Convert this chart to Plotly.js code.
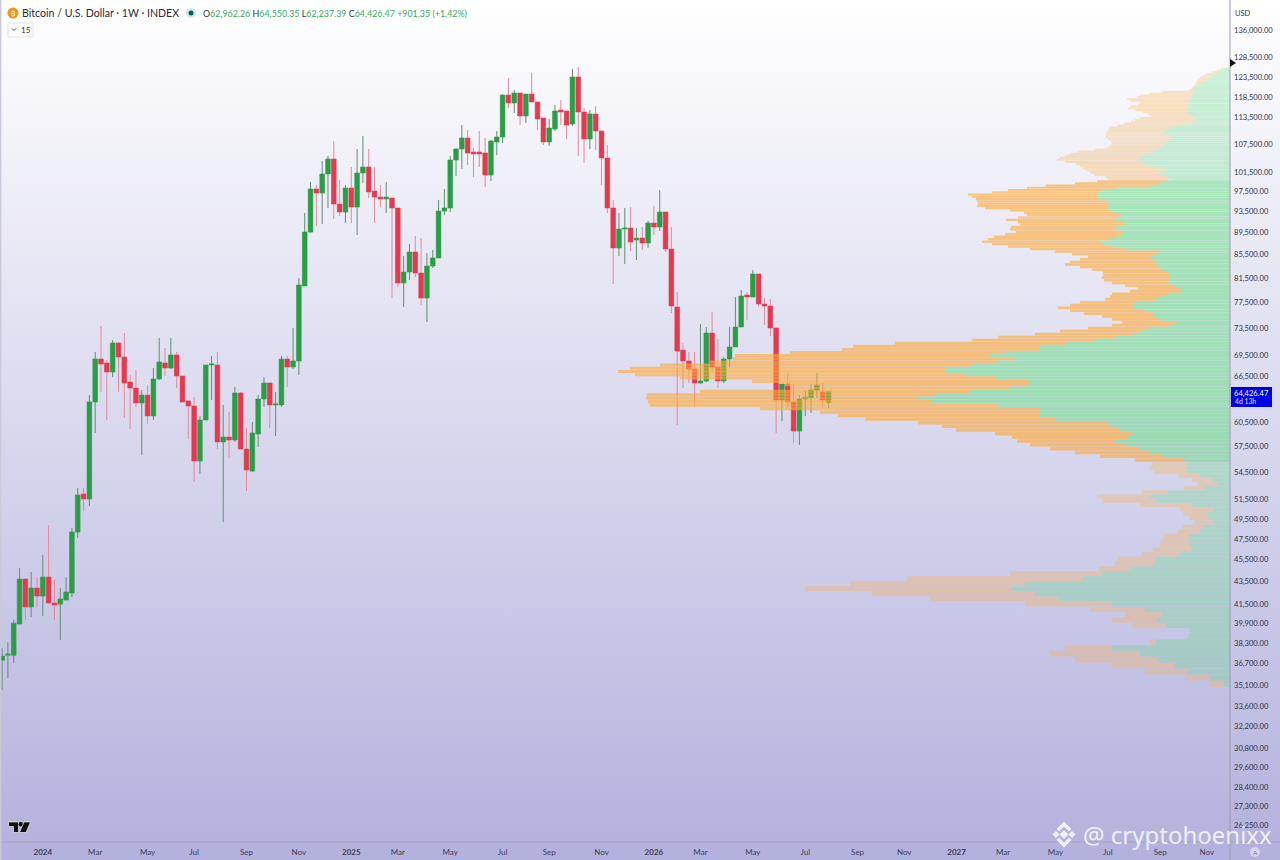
<!DOCTYPE html>
<html>
<head>
<meta charset="utf-8">
<script src="https://cdn.plot.ly/plotly-3.0.1.min.js"></script>
<style>
html,body{margin:0;padding:0;width:1280px;height:860px;overflow:hidden}
#chart{width:1280px;height:860px;background:linear-gradient(180deg,#ffffff 0%,#b3b1dd 100%)}
#chart .barlayer path{shape-rendering:geometricPrecision!important}
</style>
</head>
<body>
<div id="chart"></div>
<script>
var weekDates = [
'2023-11-13','2023-11-20','2023-11-27','2023-12-04','2023-12-11','2023-12-18','2023-12-25',
'2024-01-01','2024-01-08','2024-01-15','2024-01-22','2024-01-29','2024-02-05','2024-02-12','2024-02-19','2024-02-26',
'2024-03-04','2024-03-11','2024-03-18','2024-03-25','2024-04-01','2024-04-08','2024-04-15','2024-04-22','2024-04-29',
'2024-05-06','2024-05-13','2024-05-20','2024-05-27','2024-06-03','2024-06-10','2024-06-17','2024-06-24',
'2024-07-01','2024-07-08','2024-07-15','2024-07-22','2024-07-29','2024-08-05','2024-08-12','2024-08-19','2024-08-26',
'2024-09-02','2024-09-09','2024-09-16','2024-09-23','2024-09-30','2024-10-07','2024-10-14','2024-10-21','2024-10-28',
'2024-11-04','2024-11-11','2024-11-18','2024-11-25','2024-12-02','2024-12-09','2024-12-16','2024-12-23','2024-12-30',
'2025-01-06','2025-01-13','2025-01-20','2025-01-27','2025-02-03','2025-02-10','2025-02-17','2025-02-24',
'2025-03-03','2025-03-10','2025-03-17','2025-03-24','2025-03-31','2025-04-07','2025-04-14','2025-04-21','2025-04-28',
'2025-05-05','2025-05-12','2025-05-19','2025-05-26','2025-06-02','2025-06-09','2025-06-16','2025-06-23','2025-06-30',
'2025-07-07','2025-07-14','2025-07-21','2025-07-28','2025-08-04','2025-08-11','2025-08-18','2025-08-25',
'2025-09-01','2025-09-08','2025-09-15','2025-09-22','2025-09-29','2025-10-06','2025-10-13','2025-10-20','2025-10-27',
'2025-11-03','2025-11-10','2025-11-17','2025-11-24','2025-12-01','2025-12-08','2025-12-15','2025-12-22','2025-12-29',
'2026-01-05','2026-01-12','2026-01-19','2026-01-26','2026-02-02','2026-02-09','2026-02-16','2026-02-23',
'2026-03-02','2026-03-09','2026-03-16','2026-03-23','2026-03-30','2026-04-06','2026-04-13','2026-04-20','2026-04-27',
'2026-05-04','2026-05-11','2026-05-18','2026-05-25','2026-06-01','2026-06-08','2026-06-15','2026-06-22','2026-06-29',
'2026-07-06','2026-07-13','2026-07-20','2026-07-27','2026-08-03'];

var openPrices = [36960,37340,37340,39820,43710,41250,42900,
42200,43890,41590,41500,41850,42460,48170,52120,51580,63050,
68910,68350,67080,71230,69200,65710,64890,62920,63960,61250,
66120,68350,67640,69490,66530,63180,62530,55800,60740,68070,
68070,58040,58640,58280,64230,57200,54650,59010,63440,65570,
62660,62660,68910,67780,68630,80150,89610,97950,97150,101040,
104230,94960,93400,98160,94370,101250,102520,97550,96350,95960,
96150,94180,80640,82500,85980,82330,78180,83530,84930,93590,
94180,104010,106410,108860,105750,105750,105530,100830,107960,109080,
118980,117030,119480,113930,119220,117270,113450,107960,110900,115350,
115110,112050,123500,114870,108640,114400,110450,104450,94180,86700,
90180,90360,88140,88500,87600,91300,90550,93400,86520,76740,
70200,68630,67500,65570,65850,72720,67780,65850,68910,70640,
73630,78660,78340,82160,77210,76900,73480,63310,65440,63050,
59370,63440,63570,64630,64360,62962.26];

var highPrices = [37890,38360,40150,44720,43800,44340,43890,
45940,48880,43620,42900,43890,48580,52770,52770,63960,69920,
73780,68770,71670,71380,72720,66670,67360,64630,65300,67640,
71970,70500,71970,69920,66530,63310,63700,61250,68070,69340,
69920,62660,61750,65030,64360,59750,60490,63960,66390,65570,
64360,69340,69340,73480,81480,93210,99390,98770,103800,104880,
108180,99800,98770,102520,106410,109300,106410,102520,98770,99390,
96150,94180,85270,87420,88870,88500,85800,86340,95750,97950,
104880,106630,111810,110670,106630,110450,108860,108400,110450,119220,
123240,120220,119480,119220,124520,117270,113450,113220,116550,117760,
115110,125530,126090,115830,115350,116310,110450,107290,95750,93210,
94180,94370,90360,90550,91680,94570,97750,93400,90550,79150,
71230,69920,69920,74090,73630,75950,71820,69200,73630,78340,
79480,79150,82850,82160,78180,78020,73480,65440,66950,65440,
63960,64500,65440,66950,65570,64550.35];

var lowPrices = [34730,35610,36730,39820,40150,40400,41250,
40480,41590,40150,38520,41850,42110,47580,50310,50840,59130,
64360,60740,66390,64360,60990,59630,62400,56490,60240,60740,
65980,66530,67500,64890,62920,58400,53430,54320,60740,63310,
57200,49180,56140,58040,57200,52440,54540,57440,62400,59750,
58760,62400,65030,67500,66670,80150,89430,90740,91110,94180,
92060,92630,91300,91300,89060,99180,96150,91300,94370,93210,
78180,79980,76740,81140,81650,77050,74390,83190,84930,92820,
93400,100620,102100,102940,100420,102520,98360,99590,105090,107740,
115830,114630,111810,112290,117270,110670,107290,107070,110450,111810,
108640,111590,104880,103360,106410,106190,98770,93210,80470,85270,
83880,86160,84570,86340,86700,89060,89800,85980,75790,60120,
64890,65570,62400,65440,65710,67220,64890,65570,67780,70640,
73630,74700,78340,76740,73930,72270,59130,60620,62270,57920,
57680,61250,61620,63570,62270,62237.39];

var closePrices = [37270,37420,39900,43710,41250,42900,42200,
43890,41590,41420,41940,42550,48170,52010,51580,63050,68910,
68210,67080,71230,69200,65570,64890,62920,63960,61250,66120,
68490,67640,69490,66530,63050,62530,55800,60740,68070,68210,
58040,58640,58280,64230,57200,54770,59130,63440,65570,62660,
62790,68910,67780,68630,80310,89610,97950,97150,101040,104230,
94960,93400,98160,94370,101250,102520,97350,96350,95960,96350,
94180,80640,82500,85980,82330,78180,83530,84930,93590,94180,
104010,106410,108860,105530,105310,105310,100830,108180,109080,118980,
117030,119480,113930,119220,117270,113220,107960,111130,115110,114870,
111810,123500,114870,108640,114400,110450,104450,94180,86700,90180,
90360,87780,88500,87600,91300,90550,93400,86520,76900,70060,
68630,67500,65570,65850,72720,67780,65850,68910,70640,73630,
78500,78340,82160,77210,76900,73480,63310,65440,63050,59370,
63440,63700,64630,65300,63310,64426.47];

var rowPrices = [125650,125200,124750,124300,123850,123400,122950,122500,122050,121600,121150,120700,120250,119800,119350,118900,118450,118000,117550,117100,
116650,116200,115750,115300,114850,114400,113950,113500,113050,112600,112150,111700,111250,110800,110350,109900,109450,109000,108550,108100,
107650,107200,106750,106300,105850,105400,104950,104500,104050,103600,103150,102700,102250,101800,101350,100900,100450,100000,99550,99100,
98650,98200,97750,97300,96850,96400,95950,95500,95050,94600,94150,93700,93250,92800,92350,91900,91450,91000,90550,90100,
89650,89200,88750,88300,87850,87400,86950,86500,86050,85600,85150,84700,84250,83800,83350,82900,82450,82000,81550,81100,
80650,80200,79750,79300,78850,78400,77950,77500,77050,76600,76150,75700,75250,74800,74350,73900,73450,73000,72550,72100,
71650,71200,70750,70300,69850,69400,68950,68500,68050,67600,67150,66700,66250,65800,65350,64900,64450,64000,63550,63100,
62650,62200,61750,61300,60850,60400,59950,59500,59050,58600,58150,57700,57250,56800,56350,55900,55450,55000,54550,54100,
53650,53200,52750,52300,51850,51400,50950,50500,50050,49600,49150,48700,48250,47800,47350,46900,46450,46000,45550,45100,
44650,44200,43750,43300,42850,42400,41950,41500,41050,40600,40150,39700,39250,38800,38350,37900,37450,37000,36550,36100,
35650,35200];

var rowTotalVolume = [9,13,18,24,27,30,32,33,34,35,37,38,41,68,80,90,92,103,100,90,
92,100,102,95,88,82,80,90,95,99,106,112,120,122,123,124,124,125,122,119,
118,120,123,135,152,160,165,170,173,165,154,150,147,144,140,136,124,122,133,155,
184,203,222,238,262,258,254,253,252,253,245,220,206,203,212,224,212,210,219,220,
214,225,236,242,248,238,222,200,175,158,142,150,160,165,150,138,127,127,128,126,
118,105,92,100,118,120,125,150,160,172,160,146,128,118,108,118,142,170,195,232,
258,335,377,388,440,495,497,520,570,600,612,595,550,478,445,440,530,583,584,582,
580,470,410,392,365,312,288,274,235,218,213,200,180,155,130,95,78,80,76,52,
38,32,46,88,133,127,90,50,47,40,35,47,52,66,69,70,77,88,112,115,
131,220,323,380,425,358,300,205,140,105,118,98,40,42,80,165,180,155,118,85,
45,20];

var rowUpVolume = [7,10,13,16,18,20,22,24,28,32,35,36,37,37,38,38,39,40,40,40,
41,42,42,43,43,41,38,34,32,36,42,50,60,63,66,67,62,58,58,62,
64,66,70,74,78,82,86,90,92,88,84,78,68,63,68,73,62,58,65,70,
80,115,128,132,133,133,132,125,120,122,123,120,116,108,112,115,106,105,114,114,
106,108,113,120,130,126,118,105,70,75,80,78,74,73,73,68,62,60,60,61,
62,56,50,48,63,68,74,95,97,97,85,77,77,70,52,60,80,88,96,115,
135,165,190,190,225,240,215,232,258,285,285,265,235,200,203,220,260,295,313,298,
233,190,190,190,175,122,118,110,98,102,115,105,90,80,66,46,42,44,42,30,
18,12,24,62,80,75,38,17,22,22,17,27,30,41,40,40,38,50,75,77,
100,128,147,205,218,195,172,118,85,68,73,64,40,42,74,118,90,72,55,42,
20,6];

var valueAreaHigh = 99600;
var valueAreaLow = 55700;

var priceTicks = [136000,128500,123500,118500,113500,107500,101500,97500,93500,89500,85500,81500,77500,73500,69500,66500,60500,57500,54500,51500,49500,47500,45500,43500,41500,39900,38300,36700,35100,33600,32200,30800,29600,28400,27300,26250];

var timeTicks = ['2024-01-01','2024-03-04','2024-05-06','2024-07-01','2024-09-02','2024-11-04','2025-01-06','2025-03-03','2025-05-05','2025-07-07','2025-09-01','2025-11-03','2026-01-05','2026-03-02','2026-05-04','2026-07-06','2026-09-07','2026-11-02','2027-01-04','2027-03-01','2027-05-03','2027-07-05','2027-09-06','2027-11-01'];
var timeLabels = ['<b>2024</b>','Mar','May','Jul','Sep','Nov','<b>2025</b>','Mar','May','Jul','Sep','Nov','<b>2026</b>','Mar','May','Jul','Sep','Nov','<b>2027</b>','Mar','May','Jul','Sep','Nov'];

var FONT = 'Lato, "Noto Sans", sans-serif';
var GREEN = '#2b9d46', RED = '#e4394f', GREEN_WICK = '#5f8f75', RED_WICK = '#e8869a';

/* wicks, one segment above and one below the body */
function wicks(isUp){
  var xs=[],ys=[];
  weekDates.forEach(function(d,i){
    var up = closePrices[i]>=openPrices[i];
    if(up!==isUp) return;
    var top=Math.max(openPrices[i],closePrices[i]), bot=Math.min(openPrices[i],closePrices[i]);
    xs.push(d,d,null,d,d,null);
    ys.push(lowPrices[i],bot,null,top,highPrices[i],null);
  });
  return {type:'scatter',mode:'lines',x:xs,y:ys,xaxis:'x',yaxis:'y',line:{color:isUp?GREEN_WICK:RED_WICK,width:1},hoverinfo:'skip',showlegend:false};
}

var bodies = {type:'candlestick',x:weekDates,open:openPrices,close:closePrices,
  high:weekDates.map(function(d,i){return Math.max(openPrices[i],closePrices[i]);}),
  low:weekDates.map(function(d,i){return Math.min(openPrices[i],closePrices[i]);}),
  increasing:{line:{color:GREEN,width:0.6},fillcolor:GREEN},
  decreasing:{line:{color:RED,width:0.6},fillcolor:RED},
  whiskerwidth:0,hoverinfo:'skip',showlegend:false,xaxis:'x',yaxis:'y'};

function inVA(p){return p<=valueAreaHigh&&p>=valueAreaLow;}
var profUp = {type:'bar',orientation:'h',y:rowPrices,x:rowUpVolume,width:425,xaxis:'x2',yaxis:'y',
  marker:{color:rowPrices.map(function(p){return inVA(p)?'rgba(90,220,120,0.47)':'rgba(90,220,120,0.29)';}),line:{width:0}},
  hoverinfo:'skip',showlegend:false};
var profDown = {type:'bar',orientation:'h',y:rowPrices,x:rowTotalVolume.map(function(t,i){return t-rowUpVolume[i];}),width:425,xaxis:'x2',yaxis:'y',
  marker:{color:rowPrices.map(function(p){return inVA(p)?'rgba(255,170,60,0.64)':'rgba(255,174,63,0.31)';}),line:{width:0}},
  hoverinfo:'skip',showlegend:false};

/* helpers for pixel-placed chrome (paper coordinates of a 1230 x 842 plot) */
function X(x){return x/1230;} function Y(y){return 1-y/842;}
function pathOf(pts){return pts.map(function(p,i){return (i?'L':'M')+X(p[0])+','+Y(p[1]);}).join(' ')+' Z';}
function polygon(pts,fill,line,lw){return {type:'path',xref:'paper',yref:'paper',path:pathOf(pts),fillcolor:fill,line:{color:line||fill,width:lw||0},layer:'above'};}
function rect(x0,y0,x1,y1,fill,line,lw){return {type:'rect',xref:'paper',yref:'paper',x0:X(x0),x1:X(x1),y0:Y(y0),y1:Y(y1),fillcolor:fill,line:{color:line||fill,width:lw||0},layer:'above'};}
function circ(cx,cy,r,fill){return {type:'circle',xref:'paper',yref:'paper',x0:X(cx-r),x1:X(cx+r),y0:Y(cy-r),y1:Y(cy+r),fillcolor:fill,line:{width:0},layer:'above'};}
function note(x,y,text,size,color,anchor,extra){var a={xref:'paper',yref:'paper',x:X(x),y:Y(y),text:text,showarrow:false,xanchor:anchor||'left',yanchor:'middle',font:{family:FONT,size:size,color:color}};if(extra)for(var k in extra)a[k]=extra[k];return a;}

var W='rgba(255,255,255,0.8)';
var shapes = [
  {type:'line',xref:'paper',yref:'paper',x0:X(1230),x1:X(1230),y0:Y(0),y1:Y(860),line:{color:'#9a9bb4',width:1},layer:'above'},
  {type:'line',xref:'paper',yref:'paper',x0:0,x1:1.0407,y0:0,y1:0,line:{color:'#a3a3c4',width:1},layer:'above'},
  {type:'line',xref:'paper',yref:'paper',x0:0.0005,x1:0.0005,y0:Y(860),y1:1,line:{color:'#c9c9d9',width:1.5},layer:'above'},
  circ(13,13,5.5,'#f7931a'),
  circ(191,13,5,'rgba(0,150,136,0.18)'),
  circ(191,13,2.5,'#0b5c54'),
  rect(8,23,33,37,'rgba(255,255,255,0.9)','#e2e2e8',1),
  {type:'path',xref:'paper',yref:'paper',path:'M'+X(12)+','+Y(28.5)+' L'+X(14)+','+Y(30.5)+' L'+X(16)+','+Y(28.5),line:{color:'#444',width:1},layer:'above'},
  polygon([[1230,59],[1236,63],[1230,67]],'#111'),
  rect(1231,387,1272,407,'#0000e6'),
  circ(1255,852,5,'rgba(255,255,255,0.45)'),
  /* chart maker mark */
  polygon([[8.5,822],[18.5,822],[18.5,832.5],[13.5,832.5],[13.5,826.5],[8.5,826.5]],'#111','#fff',0.6),
  circ(20.8,824.2,2.2,'#111'),
  polygon([[24,822],[30.5,822],[26,832.5],[19.5,832.5]],'#111','#fff',0.6),
  /* watermark mark */
  polygon([[1064,830],[1068.5,834.5],[1064,839],[1059.5,834.5]],W),
  polygon([[1056,831],[1059.5,834.5],[1056,838],[1052.5,834.5]],W),
  polygon([[1072,831],[1075.5,834.5],[1072,838],[1068.5,834.5]],W),
  polygon([[1064,821.5],[1071.5,829],[1069,831.5],[1064,826.5],[1059,831.5],[1056.5,829]],W),
  polygon([[1064,847.5],[1071.5,840],[1069,837.5],[1064,842.5],[1059,837.5],[1056.5,840]],W)
];

function money(v){return v.toLocaleString('en-US',{minimumFractionDigits:2,maximumFractionDigits:2});}
var last=weekDates.length-1, G='#3aa860', D='#333344';
function ohlcPart(l,v){return '<span style="color:'+D+'">'+l+'</span><span style="color:'+G+'">'+money(v)+'</span>';}
var ohlcText = ohlcPart('O',openPrices[last])+' '+ohlcPart('H',highPrices[last])+' '+ohlcPart('L',lowPrices[last])+' '+ohlcPart('C',closePrices[last])+' <span style="color:'+G+'">+901.35 (+1.42%)</span>';

var annotations = [
  note(13,13.3,'₿',7.5,'#fff','center'),
  note(20,13,'Bitcoin / U.S. Dollar · 1W · INDEX',10.6,'#2a2a38'),
  note(201,13,ohlcText,8.9,G),
  note(19,30,'15',8,'#333'),
  note(1242.5,13,'USD',7.5,'#333','center'),
  note(1251.5,392.5,money(closePrices[last]),7.6,'#fff','center'),
  note(1245,401,'4d 13h',6.8,'#dfe3ff','center'),
  note(1255,852,'A',6.5,'#777','center'),
  note(1081,834.5,'@ cryptohoenixx',24,'rgba(255,255,255,0.82)','left',{font:{family:'"Noto Sans", sans-serif',size:24,color:'rgba(255,255,255,0.82)'}})
];

var layout = {
  width:1280,height:860,
  margin:{l:0,r:50,t:0,b:18,pad:0},
  paper_bgcolor:'rgba(0,0,0,0)',plot_bgcolor:'rgba(0,0,0,0)',
  showlegend:false,hovermode:false,dragmode:false,
  barmode:'stack',bargap:0,boxmode:'overlay',boxgap:0.2,boxgroupgap:0,
  xaxis:{type:'date',range:['2023-11-10 12:00','2027-11-28 22:00'],showgrid:false,zeroline:false,showline:false,ticks:'',
    tickmode:'array',tickvals:timeTicks,ticktext:timeLabels,tickangle:0,ticklabelstandoff:4,
    tickfont:{family:FONT,size:8,color:'#3c3c55'},rangeslider:{visible:false},fixedrange:true},
  xaxis2:{overlaying:'x',anchor:'y',range:[1230,0],visible:false,fixedrange:true},
  yaxis:{type:'log',range:[Math.log10(25370),Math.log10(144830)],side:'right',showgrid:false,zeroline:false,showline:false,ticks:'',
    tickmode:'array',tickvals:priceTicks,ticktext:priceTicks.map(money),ticklabelstandoff:3,
    tickfont:{family:FONT,size:7.6,color:'#333344'},fixedrange:true},
  shapes:shapes,annotations:annotations
};

Plotly.newPlot('chart',[wicks(true),wicks(false),bodies,profUp,profDown],layout,{displayModeBar:false,staticPlot:true});
</script>
</body>
</html>
